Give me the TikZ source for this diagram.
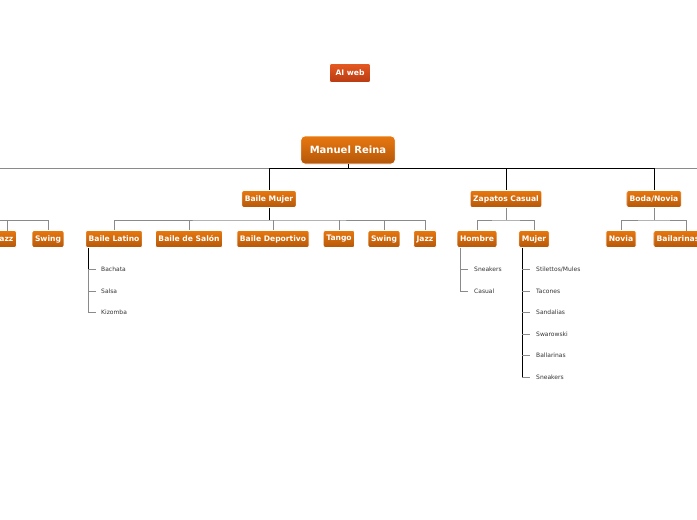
\documentclass[tikz,border=0pt]{standalone}
\usepackage{fontspec}
\setmainfont{DejaVu Sans}
\definecolor{otop}{HTML}{E8780F}
\definecolor{obot}{HTML}{B4570A}
\definecolor{rtop}{HTML}{E55A22}
\definecolor{rbot}{HTML}{B93A12}
\definecolor{lg}{HTML}{8A8A8A}
\definecolor{tx}{HTML}{333333}
\begin{document}
\begin{tikzpicture}[x=1pt,y=-1pt,
 box/.style={draw=white,line width=0.8pt,rounded corners=2pt,top color=otop,bottom color=obot,text=white,font=\bfseries\fontsize{7.6}{8}\selectfont,inner xsep=3pt,minimum height=17pt},
 rbox/.style={box,top color=rtop,bottom color=rbot,minimum height=19pt,inner xsep=6pt},
 leaf/.style={anchor=west,inner sep=0pt,text=tx,font=\fontsize{6}{7}\selectfont},
 ln/.style={lg,line width=0.8pt},
 bl/.style={black,line width=0.8pt}]
\useasboundingbox (0,0) rectangle (697,520);
\node[rbox] (ai) at (350,73) {AI web};
\node[box,rounded corners=4pt,minimum height=28pt,inner xsep=9pt,font=\bfseries\fontsize{10}{12}\selectfont] (root) at (348,150) {Manuel Reina};
\node[box] (bm) at (269,199) {Baile Mujer};
\node[box] (zc) at (506,199) {Zapatos Casual};
\node[box] (bn) at (654,199) {Boda/Novia};
\node[box] (jz0) at (5,239) {Jazz};
\node[box] (sw0) at (48,239) {Swing};
\node[box] (bl) at (114,239) {Baile Latino};
\node[box] (bs) at (189,239) {Baile de Salón};
\node[box] (bd) at (273,239) {Baile Deportivo};
\node[box] (tg) at (339,239) {Tango};
\node[box] (sw) at (384,239) {Swing};
\node[box] (jz) at (425,239) {Jazz};
\node[box] (hb) at (477,239) {Hombre};
\node[box] (mj) at (534,239) {Mujer};
\node[box] (nv) at (621,239) {Novia};
\node[box] (ba) at (678,239) {Bailarinas};
% main line
\coordinate (m0) at (0,168); \coordinate (m1) at (697,168);
\draw[ln] (m0) -- (m1);
\draw[bl] (root.south) -- (348,168) -| (bm.north);
\draw[bl] (348,168) -| (zc.north);
\draw[bl] (348,168) -| (bn.north);
% second level
\draw[ln] (0,220) -| (sw0.north); \draw[ln] (7,220) -- (7,231);
\draw[bl] (bm.south) -- (269,220);
\draw[ln] (bl.north) |- (269,220) -| (jz.north);
\foreach \n/\x in {bs/189,bd/273,tg/339,sw/384} \draw[ln] (\x,220) -- (\n.north);
\draw[ln] (zc.south) -- (506,220);
\draw[ln] (hb.north) |- (506,220) -| (mj.north);
\draw[ln] (bn.south) -- (654,220);
\draw[ln] (nv.north) |- (654,220) -| (686,231);
% leaves
\draw[bl] (88,247.5) -- (88,269);
\draw[ln] (88,269) -- (88,312);
\foreach \t/\y [count=\i] in {Bachata/269,Salsa/291,Kizomba/312}{
 \node[leaf] (l\i) at (101,\y) {\t}; \draw[ln] (88,\y) -- (96,\y);}
\draw[ln] (460,247.5) -- (460,291);
\foreach \t/\y [count=\i] in {Sneakers/269,Casual/291}{
 \node[leaf] (h\i) at (474,\y) {\t}; \draw[ln] (460,\y) -- (468,\y);}
\draw[bl] (522,247.5) -- (522,377);
\foreach \t/\y [count=\i] in {{Stilettos/Mules}/269,Tacones/291,Sandalias/312,Swarowski/334,Ballarinas/355,Sneakers/377}{
 \node[leaf] (w\i) at (536,\y) {\t}; \draw[ln] (522,\y) -- (530,\y);}
\end{tikzpicture}
\end{document}
